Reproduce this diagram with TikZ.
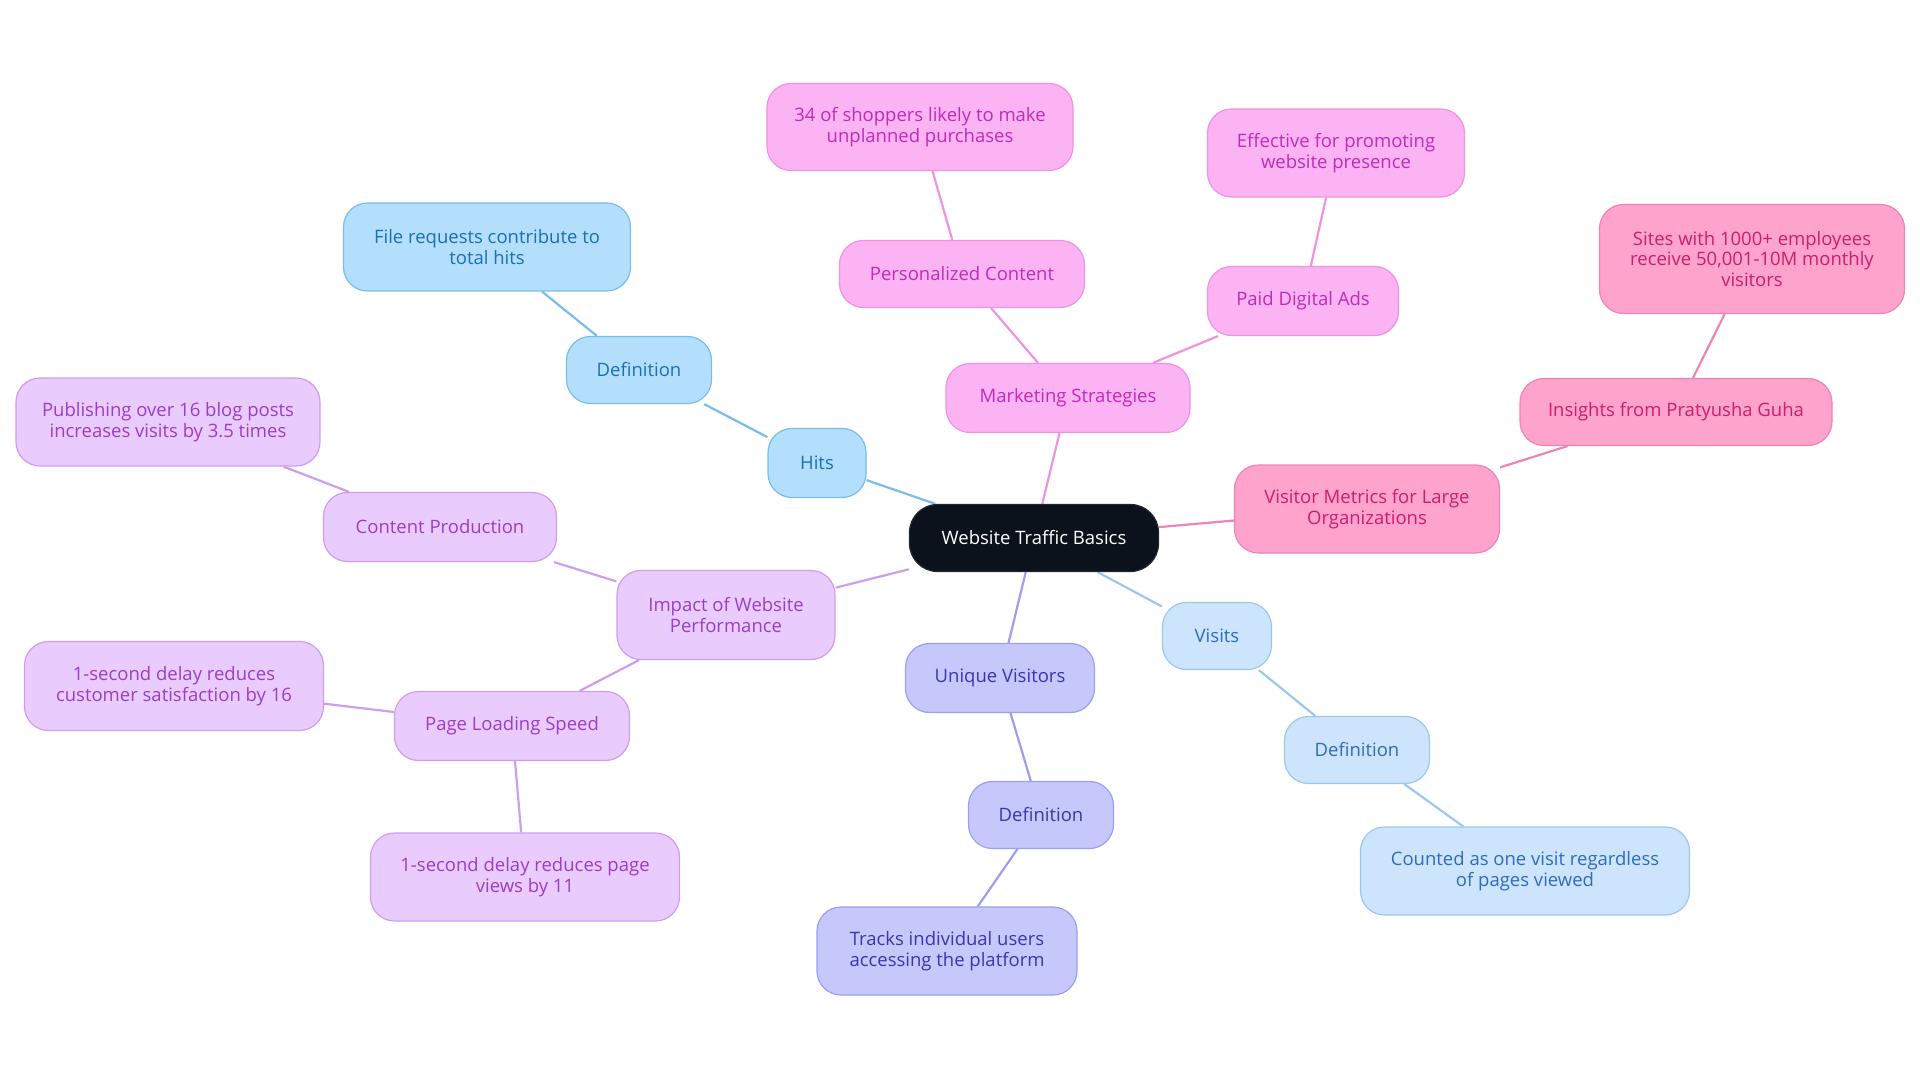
\documentclass[tikz,border=0pt]{standalone}
\usepackage{fontspec}
\setmainfont{Open Sans}
\usetikzlibrary{backgrounds}
\definecolor{rootF}{HTML}{0B121B}
\definecolor{hitF}{HTML}{B4DFFC}\definecolor{hitD}{HTML}{79BDE8}\definecolor{hitT}{HTML}{1A70B8}
\definecolor{visF}{HTML}{CCE4FC}\definecolor{visD}{HTML}{9EC7EE}\definecolor{visT}{HTML}{2F6CBF}
\definecolor{uvF}{HTML}{C6C8FC}\definecolor{uvD}{HTML}{9C9FF0}\definecolor{uvT}{HTML}{3B35B5}
\definecolor{impF}{HTML}{EACBFD}\definecolor{impD}{HTML}{CD9EF0}\definecolor{impT}{HTML}{9A3EC7}
\definecolor{mkF}{HTML}{FCB3F4}\definecolor{mkD}{HTML}{EC93E2}\definecolor{mkT}{HTML}{C12BB8}
\definecolor{vmF}{HTML}{FEA3CC}\definecolor{vmD}{HTML}{EC85B6}\definecolor{vmT}{HTML}{CD1D6E}
\tikzset{
  box/.style={rounded corners=24pt, draw, line width=1.2pt, align=center, inner sep=0pt,
    font=\fontsize{18.5}{20.5}\selectfont},
  rootbox/.style={box, fill=rootF, draw=rootF!80!gray, text=white, rounded corners=28pt},
  hitbox/.style={box, fill=hitF, draw=hitD, text=hitT},
  visbox/.style={box, fill=visF, draw=visD, text=visT},
  uvbox/.style={box, fill=uvF, draw=uvD, text=uvT},
  impbox/.style={box, fill=impF, draw=impD, text=impT},
  mkbox/.style={box, fill=mkF, draw=mkD, text=mkT},
  vmbox/.style={box, fill=vmF, draw=vmD, text=vmT},
  link/.style={line width=2.2pt}
}
\begin{document}
\begin{tikzpicture}[x=1pt,y=-1pt]
\useasboundingbox (0,0) rectangle (1920,1083);
% root
\node[rootbox, minimum width=249, minimum height=67] (root) at (1034,538) {Website Traffic Basics};
% hits
\node[hitbox, minimum width=98, minimum height=69] (hits) at (817,463) {Hits};
\node[hitbox, minimum width=145, minimum height=67] (hdef) at (639,370) {Definition};
\node[hitbox, minimum width=287, minimum height=88] (hfile) at (487,247) {File requests contribute to\\total hits};
% marketing
\node[mkbox, minimum width=244, minimum height=69] (mk) at (1068,398) {Marketing Strategies};
\node[mkbox, minimum width=245, minimum height=67] (pers) at (962,274) {Personalized Content};
\node[mkbox, minimum width=306, minimum height=87] (shop) at (920,127) {34 of shoppers likely to make\\unplanned purchases};
\node[mkbox, minimum width=191, minimum height=69] (paid) at (1303,301) {Paid Digital Ads};
\node[mkbox, minimum width=257, minimum height=88] (eff) at (1336,153) {Effective for promoting\\website presence};
% visitor metrics
\node[vmbox, minimum width=265, minimum height=88] (vm) at (1367,509) {Visitor Metrics for Large\\Organizations};
\node[vmbox, minimum width=312, minimum height=67] (ins) at (1676,412) {Insights from Pratyusha Guha};
\node[vmbox, minimum width=305, minimum height=109] (sites) at (1752,259) {Sites with 1000+ employees\\receive 50,001-10M monthly\\visitors};
% visits
\node[visbox, minimum width=109, minimum height=67] (vis) at (1217,636) {Visits};
\node[visbox, minimum width=145, minimum height=67] (vdef) at (1357,750) {Definition};
\node[visbox, minimum width=329, minimum height=88] (cnt) at (1525,871) {Counted as one visit regardless\\of pages viewed};
% unique visitors
\node[uvbox, minimum width=189, minimum height=69] (uv) at (1000,678) {Unique Visitors};
\node[uvbox, minimum width=145, minimum height=67] (udef) at (1041,815) {Definition};
\node[uvbox, minimum width=260, minimum height=88] (trk) at (947,951) {Tracks individual users\\accessing the platform};
% impact
\node[impbox, minimum width=218, minimum height=89] (imp) at (726,615) {Impact of Website\\Performance};
\node[impbox, minimum width=233, minimum height=69] (cp) at (440,527) {Content Production};
\node[impbox, minimum width=304, minimum height=88] (pub) at (168,422) {Publishing over 16 blog posts\\increases visits by 3.5 times};
\node[impbox, minimum width=235, minimum height=69] (pls) at (512,726) {Page Loading Speed};
\node[impbox, minimum width=299, minimum height=89] (cust) at (174,686) {1-second delay reduces\\customer satisfaction by 16};
\node[impbox, minimum width=309, minimum height=88] (pv) at (525,877) {1-second delay reduces page\\views by 11};
\begin{scope}[on background layer]
\draw[link, draw=hitD] (root) -- (hits) -- (hdef) -- (hfile);
\draw[link, draw=mkD] (root) -- (mk) -- (pers) -- (shop);
\draw[link, draw=mkD] (mk) -- (paid) -- (eff);
\draw[link, draw=vmD] (root) -- (vm) -- (ins) -- (sites);
\draw[link, draw=visD] (root) -- (vis) -- (vdef) -- (cnt);
\draw[link, draw=uvD] (root) -- (uv) -- (udef) -- (trk);
\draw[link, draw=impD] (root) -- (imp) -- (cp) -- (pub);
\draw[link, draw=impD] (imp) -- (pls) -- (cust);
\draw[link, draw=impD] (pls) -- (pv);
\end{scope}
\end{tikzpicture}
\end{document}
